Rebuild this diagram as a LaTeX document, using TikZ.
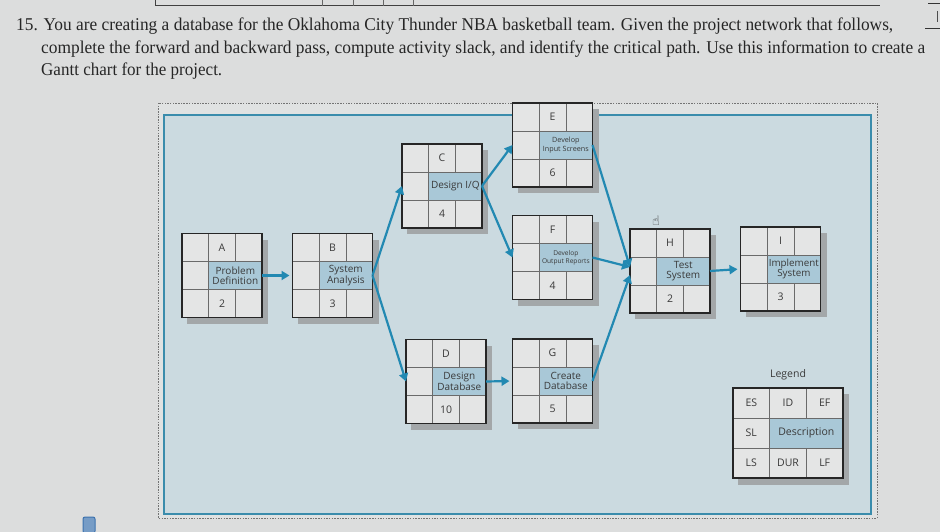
\documentclass[tikz,border=0pt]{standalone}
\usepackage{fontspec}
\setmainfont{Liberation Serif}
\newfontfamily\boxfont{Open Sans}
\newfontfamily\symfont{DejaVu Sans}
\usepackage{graphicx}
\usetikzlibrary{arrows.meta,calc}
\definecolor{pagebg}{HTML}{DCDDDD}
\definecolor{marginc}{HTML}{E0E2E2}
\definecolor{innerc}{HTML}{CBDAE0}
\definecolor{framec}{HTML}{3A8CAC}
\definecolor{arrowc}{HTML}{2289B2}
\definecolor{cellc}{HTML}{E4E5E5}
\definecolor{gridc}{HTML}{6A6A6A}
\definecolor{descc}{HTML}{A9C8D7}
\definecolor{shadowc}{HTML}{A3A7A9}
\definecolor{txtc}{HTML}{3A3A3A}
\definecolor{inkc}{HTML}{262626}
\definecolor{iconc}{HTML}{3C72AE}
\tikzset{
  boxframe/.style={rectangle, draw=black!85, line width=1.2pt, minimum width=80pt, minimum height=84pt, inner sep=0pt, outer sep=0pt},
  lgframe/.style={rectangle, draw=black!85, line width=1.2pt, minimum width=110pt, minimum height=90pt, inner sep=0pt, outer sep=0pt},
  txt/.style={inner sep=0pt, text=txtc, font=\boxfont\fontsize{10.5}{11}\selectfont},
  qline/.style={anchor=base west, inner sep=0pt, text=inkc, font=\fontsize{18}{20}\selectfont},
  conn/.style={draw=arrowc, line width=2.2pt, -{Triangle[length=8pt,width=9pt]}},
}
% #1 name, #2 x, #3 y (top-left), #4 letter, #5 description, #6 duration, #7 font size, #8 baseline skip
\newcommand\actbox[8]{%
  \fill[shadowc] (#2+5,#3+6) rectangle (#2+86,#3+90);
  \fill[cellc] (#2,#3) rectangle (#2+80,#3+84);
  \fill[descc] (#2+26.67,#3+28) rectangle (#2+80,#3+56);
  \draw[gridc, line width=0.6pt] (#2+26.67,#3) -- (#2+26.67,#3+84)
     (#2+53.33,#3) -- (#2+53.33,#3+28) (#2+53.33,#3+56) -- (#2+53.33,#3+84)
     (#2,#3+28) -- (#2+80,#3+28) (#2,#3+56) -- (#2+80,#3+56);
  \node[boxframe, anchor=north west] (#1) at (#2,#3) {};
  \node[txt] (#1-id) at (#2+40,#3+14) {#4};
  \node[txt, align=center, font=\boxfont\fontsize{#7}{#8}\selectfont] (#1-desc) at (#2+53.33,#3+42) {#5};
  \node[txt] (#1-dur) at (#2+40,#3+70) {#6};
}
\begin{document}
\begin{tikzpicture}[x=1pt,y=-1pt]
\useasboundingbox (0,0) rectangle (940,532);
\fill[pagebg] (0,0) rectangle (940,532);
% artifacts of the page
\draw[black!75, line width=1pt] (155,0) -- (155,6) -- (880,6);
\draw[black!60, line width=0.5pt] (322,0) -- (322,6) (353,0) -- (353,6) (383,0) -- (383,6) (413,0) -- (413,6);
\draw[black!80, line width=1pt] (928,4) -- (940,4) (925,29) -- (940,29);
\draw[black!70, line width=0.8pt] (937,11) -- (937,22);
\draw[iconc, fill=iconc!70, line width=1pt, rounded corners=2pt] (83,517) rectangle (95,533);
% question text
\node[qline] (q1) at (16,31) {\resizebox{877pt}{\height}{15. You are creating a database for the Oklahoma City Thunder NBA basketball team. Given the project network that follows,}};
\node[qline] (q2) at (41,53.5) {\resizebox{884pt}{\height}{complete the forward and backward pass, compute activity slack, and identify the critical path. Use this information to create a}};
\node[qline] (q3) at (41,76) {\resizebox{181pt}{\height}{Gantt chart for the project.}};
% frames
\fill[marginc] (158,103) rectangle (877,518);
\draw[black!55, line width=0.6pt, dash pattern=on 1.5pt off 1.2pt] (158,103) rectangle (877,518);
\draw[framec, fill=innerc, line width=1.6pt] (164,115) rectangle (871,514);
% activity boxes
\actbox{A}{182}{233.5}{A}{Problem\\Definition}{2}{10}{10.5}
\actbox{B}{292.5}{233.5}{B}{System\\Analysis}{3}{10}{10.5}
\actbox{C}{402}{144}{C}{Design I/Q}{4}{10}{10.5}
\actbox{E}{512.5}{103}{E}{Develop\\Input Screens}{6}{7.2}{8.8}
\actbox{F}{512.5}{215.5}{F}{Develop\\Output Reports}{4}{6.6}{8.2}
\actbox{D}{406}{339.5}{D}{Design\\Database}{10}{10}{10.5}
\actbox{G}{512.5}{339}{G}{Create\\Database}{5}{10}{10.5}
\actbox{H}{630}{229}{H}{Test\\System}{2}{10}{10.5}
\actbox{I}{740.5}{227}{I}{Implement\\System}{3}{9.8}{10.5}
% connectors
\draw[conn, shorten >=3pt] (A.east) -- (B.west);
\draw[conn] (B.east) -- (C.west);
\draw[conn] (B.east) -- (D.west);
\draw[conn] (C.east) -- (E.west);
\draw[conn] (C.east) -- (F.west);
\draw[conn, shorten >=3pt] (D.east) -- (G.west);
\draw[conn] (E.east) -- ([yshift=4pt]H.west);
\draw[conn] (F.east) -- ([yshift=4pt]H.west);
\draw[conn] (G.east) -- ([yshift=-4pt]H.west);
\draw[conn, shorten >=3pt] (H.east) -- (I.west);
% cursor
\node[inner sep=0pt, font=\symfont\fontsize{13}{13}\selectfont, text=black!80] (cursor) at (656,221) {☝};
% legend
\node[txt, font=\boxfont\fontsize{10.5}{11}\selectfont] (lgtitle) at (788,375) {Legend};
\fill[shadowc] (738,394) rectangle (849,485);
\fill[cellc] (733,388) rectangle (843,478);
\fill[descc] (769.67,418) rectangle (843,448);
\draw[gridc, line width=0.6pt] (769.67,388) -- (769.67,478)
   (806.33,388) -- (806.33,418) (806.33,448) -- (806.33,478)
   (733,418) -- (843,418) (733,448) -- (843,448);
\node[lgframe, anchor=north west] (legend) at (733,388) {};
\node[txt] (lg-es) at (751.3,403) {ES};
\node[txt] (lg-id) at (788,403) {ID};
\node[txt] (lg-ef) at (824.7,403) {EF};
\node[txt] (lg-sl) at (751.3,433) {SL};
\node[txt] (lg-desc) at (806.33,433) {Description};
\node[txt] (lg-ls) at (751.3,463) {LS};
\node[txt] (lg-dur) at (788,463) {DUR};
\node[txt] (lg-lf) at (824.7,463) {LF};
\end{tikzpicture}
\end{document}
